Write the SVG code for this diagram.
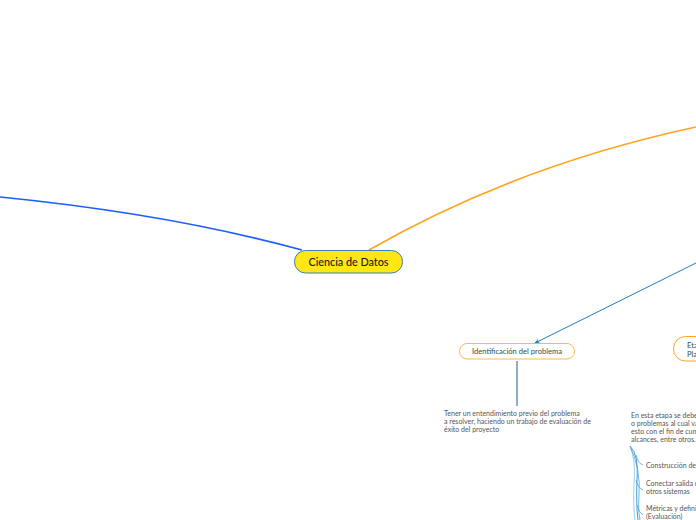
<svg xmlns="http://www.w3.org/2000/svg" width="696" height="520" viewBox="0 0 696 520">
<style>
  text { font-family: Lato, "Open Sans", "Liberation Sans", sans-serif; }
  .main { font-size: 10.8px; fill: #1a1a1a; font-weight: 500; }
  .sub { font-size: 7.6px; fill: #2f4f3f; }
  .note { font-size: 7px; fill: #555555; }
  .item { font-size: 7px; fill: #555555; }
  .conn { fill: none; }
</style>
<defs>
  <marker id="arr" viewBox="0 0 10 10" refX="8" refY="5" markerWidth="6" markerHeight="6" orient="auto-start-reverse">
    <path d="M0,1 L9,5 L0,9 L3,5 z" fill="#1e7fc1"/>
  </marker>
</defs>
<rect width="696" height="520" fill="#ffffff"/>
<g id="connectors">
  <path class="conn" d="M0,197 Q170,214 302,250" stroke="#1f5cff" stroke-width="1.6"/>
  <path class="conn" d="M369,250 Q515,166 696,127" stroke="#ffa31a" stroke-width="1.6"/>
  <path class="conn" d="M696,263 L535,343" stroke="#1e7fc1" stroke-width="1" marker-end="url(#arr)"/>
  <path class="conn" d="M517,361 L517,406" stroke="#1a5f8a" stroke-width="1"/>
  <g id="bracket" stroke-width="0.8" fill="none">
    <path d="M630,446 Q639,455 637,480 Q636,505 638,520" stroke="#1e7fc1"/>
    <path d="M630,446 Q636,460 634,485 Q633,505 635,520" stroke="#7fc3ea"/>
    <path d="M630,446 Q641,470 639,495 Q638,510 640,520" stroke="#4aa3d8"/>
    <path d="M636,455 Q638,463 643,465" stroke="#4aa3d8"/>
    <path d="M636,480 Q638,488 643,490" stroke="#4aa3d8"/>
    <path d="M637,505 Q639,513 643,515" stroke="#4aa3d8"/>
  </g>
</g>
<g id="node-central">
  <rect x="294.5" y="250.5" width="108" height="22.5" rx="11" fill="#ffe614" stroke="#3a7cc0" stroke-width="1"/>
  <text class="main" x="348.5" y="265.5" text-anchor="middle">Ciencia de Datos</text>
</g>
<g id="node-identificacion">
  <rect x="459.5" y="343.5" width="115" height="15.5" rx="7.5" fill="#ffffff" stroke="#ffb74d" stroke-width="1"/>
  <text class="sub" x="517" y="354" text-anchor="middle">Identificación del problema</text>
</g>
<g id="note-identificacion">
  <text class="note" x="444" y="416">Tener un entendimiento previo del problema</text>
  <text class="note" x="444" y="424">a resolver, haciendo un trabajo de evaluación de</text>
  <text class="note" x="444" y="432">éxito del proyecto</text>
</g>
<g id="node-etapa">
  <rect x="673.5" y="336.5" width="80" height="24.5" rx="12" fill="#ffffff" stroke="#ffa31a" stroke-width="1"/>
  <text class="sub" x="687" y="347.5">Etapa de</text>
  <text class="sub" x="687" y="356.5">Planeación</text>
</g>
<g id="note-etapa">
  <text class="note" x="631" y="418">En esta etapa se deben definir los objetivos</text>
  <text class="note" x="631" y="426">o problemas al cual va dirigido el proyecto,</text>
  <text class="note" x="631" y="434">esto con el fin de cumplir los</text>
  <text class="note" x="631" y="442">alcances, entre otros.</text>
</g>
<g id="item-1">
  <text class="item" x="646" y="468">Construcción del modelo</text>
</g>
<g id="item-2">
  <text class="item" x="646" y="486">Conectar salida con</text>
  <text class="item" x="646" y="494">otros sistemas</text>
</g>
<g id="item-3">
  <text class="item" x="646" y="511">Métricas y definiciones</text>
  <text class="item" x="646" y="519">(Evaluación)</text>
</g>
</svg>
